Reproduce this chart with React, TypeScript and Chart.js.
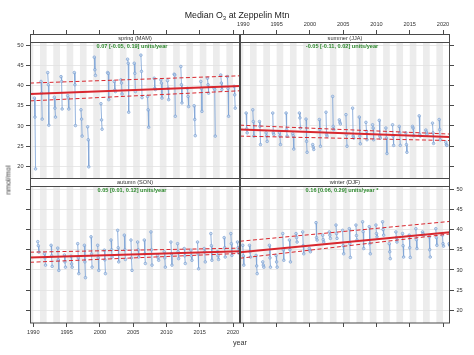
import React, { useEffect, useRef } from "react";
import { Chart, registerables } from "chart.js";

Chart.register(...registerables);

const FONT = "'Liberation Sans', Arial, Helvetica, sans-serif";

// ---------------- data ----------------
const X_MIN = 1989.5;
const X_MAX = 2021.05;
const Y_MIN = 16.9;
const Y_MAX = 50.75;
const X_TICKS = [1990, 1995, 2000, 2005, 2010, 2015, 2020];
const Y_TICKS = [20, 25, 30, 35, 40, 45, 50];

const YEARS = [
  1990, 1991, 1992, 1993, 1994, 1995, 1996, 1997, 1998, 1999, 2000, 2001, 2002, 2003, 2004, 2005,
  2006, 2007, 2008, 2009, 2010, 2011, 2012, 2013, 2014, 2015, 2016, 2017, 2018, 2019, 2020,
];
const WINTER_YEARS = [
  1990, 1991, 1992, 1993, 1994, 1995, 1996, 1997, 1998, 1999, 2000, 2001, 2002, 2003, 2004, 2005,
  2006, 2007, 2008, 2009, 2010, 2011, 2012, 2013, 2014, 2015, 2016, 2017, 2018, 2019, 2020, 2021,
];

// month positions (fraction of a year) of the three months in each season
const SPRING_MONTHS = [0.16, 0.25, 0.33];
const SUMMER_MONTHS = [0.42, 0.5, 0.58];
const AUTUMN_MONTHS = [0.67, 0.75, 0.83];
const WINTER_MONTHS = [-0.08, 0.0, 0.08];

// monthly median O3 (nmol/mol), three months per year
const SPRING = [
  [36.9, 32.2, 19.4], [41.0, 38.1, 31.7], [43.2, 40.2, 30.2], [37.1, 34.4, 32.2], [42.2, 41.0, 34.2],
  [37.5, 36.9, 34.2], [43.2, 40.2, 30.1], [34.0, 31.7, 27.5], [29.8, 26.6, 19.9], [47.0, 43.9, 42.5],
  [35.5, 31.5, 29.2], [43.2, 43.0, 36.5], [41.0, 38.9, 38.5], [41.4, 40.6, 37.9], [46.5, 45.5, 33.4],
  [45.5, 43.0, 38.5], [47.5, 43.5, 37.0], [37.3, 34.0, 29.7], [41.8, 39.3, 39.0], [41.4, 40.6, 36.9],
  [41.2, 39.3, 36.5], [42.8, 42.6, 32.4], [44.7, 40.2, 35.7], [39.3, 37.3, 34.8], [35.0, 31.6, 27.6],
  [41.0, 39.3, 33.6], [41.8, 40.2, 38.1], [39.3, 39.0, 27.5], [42.6, 40.6, 39.0], [42.2, 39.3, 32.4],
  [39.8, 37.7, 34.4],
];
const SUMMER = [
  [33.2, 29.3, 28.3], [34.0, 31.1, 27.5], [31.1, 29.9, 25.4], [28.3, 27.5, 26.2], [33.2, 28.3, 27.9],
  [28.3, 27.5, 25.4], [33.2, 29.1, 27.5], [28.1, 27.6, 24.3], [33.2, 32.0, 29.5], [31.7, 26.2, 23.5],
  [25.4, 24.8, 24.2], [31.6, 29.1, 25.0], [33.4, 27.9, 27.5], [37.3, 29.9, 29.1], [31.5, 30.9, 30.5],
  [32.8, 27.9, 25.0], [34.4, 27.5, 27.0], [32.2, 27.5, 25.6], [30.9, 28.7, 26.6], [30.3, 29.5, 26.6],
  [31.4, 27.5, 27.0], [29.5, 27.0, 23.2], [30.3, 27.5, 25.2], [29.9, 28.3, 25.2], [28.3, 25.4, 23.5],
  [29.9, 29.5, 27.6], [32.5, 27.9, 27.5], [29.0, 28.5, 27.9], [30.7, 28.3, 25.7], [31.6, 29.1, 26.6],
  [26.0, 25.4, 25.2],
];
const AUTUMN = [
  [37.0, 36.0, 34.4], [34.0, 33.0, 31.2], [36.1, 33.5, 30.9], [35.4, 32.5, 29.9], [33.7, 32.0, 30.7],
  [33.4, 31.5, 30.7], [36.5, 33.0, 29.1], [36.1, 32.0, 28.1], [38.2, 34.0, 30.7], [36.1, 33.0, 29.9],
  [34.9, 32.5, 29.1], [37.4, 35.0, 33.2], [39.8, 35.5, 32.0], [38.6, 35.0, 32.6], [37.4, 33.0, 29.9],
  [36.9, 35.0, 33.2], [37.4, 34.0, 31.6], [39.4, 35.0, 31.2], [33.6, 33.0, 32.4], [34.5, 33.0, 30.7],
  [36.9, 34.0, 31.2], [36.5, 34.5, 32.8], [35.3, 33.5, 31.6], [34.9, 33.5, 32.4], [36.9, 34.0, 30.3],
  [35.3, 34.5, 32.0], [39.0, 36.0, 32.4], [34.5, 33.5, 32.6], [38.0, 35.5, 33.2], [39.0, 36.5, 33.6],
  [36.9, 35.5, 34.2],
];
const WINTER = [
  [36.1, 33.5, 31.2], [36.1, 34.5, 33.2], [33.6, 31.0, 29.1], [32.0, 31.2, 30.7], [36.1, 33.0, 30.7],
  [33.6, 32.0, 30.7], [39.0, 35.0, 32.4], [37.4, 35.0, 32.0], [39.0, 38.0, 36.9], [39.4, 36.0, 34.0],
  [35.3, 34.8, 34.5], [41.7, 38.0, 37.4], [38.6, 37.5, 36.9], [39.4, 38.6, 37.8], [41.1, 39.0, 37.8],
  [39.8, 36.0, 34.0], [40.2, 36.5, 33.1], [41.1, 38.5, 37.4], [41.9, 39.5, 35.3], [40.7, 36.5, 34.0],
  [41.1, 39.0, 38.2], [41.9, 40.0, 38.6], [36.5, 34.5, 32.8], [39.4, 38.0, 36.9], [39.0, 36.0, 33.2],
  [38.6, 35.5, 33.1], [40.2, 37.5, 35.3], [39.4, 39.0, 38.6], [38.2, 35.0, 33.2], [40.2, 38.0, 36.1],
  [38.6, 36.5, 35.9], [36.5, 36.2, 36.0],
];

// Theil-Sen trend lines at the start / end of the x range: [trend, lower, upper]
const TREND_X = [X_MIN, X_MAX];
const SPRING_TREND = [[37.9, 39.9], [36.2, 38.7], [40.6, 42.4]];
const SUMMER_TREND = [[29.1, 27.25], [27.5, 26.4], [30.2, 28.0]];
const AUTUMN_TREND = [[33.1, 34.6], [31.9, 34.1], [34.4, 35.4]];
const WINTER_TREND = [[34.4, 39.3], [32.9, 38.9], [37.1, 42.0]];

const PANEL_LABELS = ["spring (MAM)", "summer (JJA)", "autumn (SON)", "winter (DJF)"];
const PANEL_SLOPES = [
  "0.07 [-0.05, 0.19] units/year",
  "-0.05 [-0.11, 0.02] units/year",
  "0.05 [0.01, 0.12] units/year",
  "0.16 [0.06, 0.29] units/year *",
];

const PANELS = [
  { years: YEARS, values: SPRING, months: SPRING_MONTHS, trend: SPRING_TREND },
  { years: YEARS, values: SUMMER, months: SUMMER_MONTHS, trend: SUMMER_TREND },
  { years: YEARS, values: AUTUMN, months: AUTUMN_MONTHS, trend: AUTUMN_TREND },
  { years: WINTER_YEARS, values: WINTER, months: WINTER_MONTHS, trend: WINTER_TREND },
];

// ---------------- layout / style ----------------
const W = 474;
const H = 355;
const COL_X = [30, 240, 450];
const ROW_Y = [
  [42, 179],
  [186, 323],
];
const STRIP_H = 8;
const TICK_LEN = 4;
const X_LABEL_SPACE = 10;
const Y_LABEL_SPACE = 16;

const DATA_COLOR = "#85a8d8";
const TREND_COLOR = "#d9272e";
const SLOPE_COLOR = "#2f8a2f";
const AXIS_COLOR = "#4a4a4a";
const TEXT_COLOR = "#333333";

function buildChart(canvas: HTMLCanvasElement, index: number) {
  const p = PANELS[index];
  const row = Math.floor(index / 2);
  const col = index % 2;
  const area = {
    left: COL_X[col],
    right: COL_X[col + 1],
    top: ROW_Y[row][0],
    bottom: ROW_Y[row][1],
  };
  const yOnLeft = col === 0;
  const yLabels = (row === 0 && col === 0) || (row === 1 && col === 1);
  const xOnTop = row === 0;
  const xLabels = (row === 0 && col === 1) || (row === 1 && col === 0);
  const xTickLen = xOnTop ? TICK_LEN + STRIP_H : TICK_LEN;
  const xAxisH = xTickLen + (xLabels ? X_LABEL_SPACE : 0);
  const yAxisW = yOnLeft ? area.left : TICK_LEN + (yLabels ? Y_LABEL_SPACE : 0);

  const padding = {
    left: yOnLeft ? 0 : area.left,
    right: yOnLeft ? W - area.right : W - area.right - yAxisW,
    top: xOnTop ? area.top - xAxisH : area.top,
    bottom: xOnTop ? H - area.bottom : H - area.bottom - xAxisH,
  };

  const points: { x: number; y: number | null }[] = [];
  p.years.forEach((yr, i) => {
    p.values[i].forEach((v, k) => points.push({ x: yr + p.months[k], y: v }));
    points.push({ x: yr + 0.5, y: null });
  });

  const trendDs = (k: number) => ({
    data: TREND_X.map((x, j) => ({ x, y: p.trend[k][j] })),
    borderColor: TREND_COLOR,
    borderWidth: k === 0 ? 2 : 1,
    borderDash: k === 0 ? [] : [4, 2.5],
    pointRadius: 0,
    fill: false,
    tension: 0,
  });

  const decor = {
    id: "panelDecor" + index,
    beforeDraw(chart: any) {
      const { ctx, chartArea: a, scales } = chart;
      const xs = scales.x;
      ctx.save();
      ctx.beginPath();
      ctx.rect(a.left, a.top, a.right - a.left, a.bottom - a.top);
      ctx.clip();
      ctx.fillStyle = "#ececec";
      for (let yr = 1989; yr <= 2022; yr++) {
        if (yr % 2 !== 1) continue;
        const x0 = xs.getPixelForValue(yr);
        const x1 = xs.getPixelForValue(yr + 1);
        ctx.fillRect(x0, a.top, x1 - x0, a.bottom - a.top);
      }
      ctx.restore();
    },
    afterDraw(chart: any) {
      const { ctx, chartArea: a } = chart;
      ctx.save();
      // strip
      const sTop = a.top - STRIP_H;
      ctx.fillStyle = "#ffffff";
      ctx.fillRect(a.left, sTop, a.right - a.left, STRIP_H);
      ctx.strokeStyle = AXIS_COLOR;
      ctx.lineWidth = 1;
      ctx.strokeRect(a.left + 0.5, sTop + 0.5, a.right - a.left - 1, STRIP_H);
      ctx.fillStyle = TEXT_COLOR;
      ctx.font = `5.6px ${FONT}`;
      ctx.textAlign = "center";
      ctx.textBaseline = "middle";
      ctx.fillText(PANEL_LABELS[index], (a.left + a.right) / 2, sTop + STRIP_H / 2 + 0.5);
      // panel box
      ctx.strokeRect(a.left + 0.5, a.top + 0.5, a.right - a.left - 1, a.bottom - a.top - 0.5);
      // slope text
      ctx.fillStyle = SLOPE_COLOR;
      ctx.font = `bold 5.6px ${FONT}`;
      ctx.fillText(PANEL_SLOPES[index], (a.left + a.right) / 2 - 3, a.top + 4.5);
      ctx.restore();
    },
  };

  return new Chart(canvas, {
    type: "line",
    data: {
      datasets: [
        trendDs(0),
        trendDs(1),
        trendDs(2),
        {
          data: points,
          borderColor: DATA_COLOR,
          borderWidth: 0.9,
          pointRadius: 1.3,
          pointBorderWidth: 0.7,
          pointBorderColor: "#7a9fd2",
          pointBackgroundColor: "rgba(200,218,240,0.7)",
          spanGaps: false,
          fill: false,
          tension: 0,
        },
      ] as any,
    },
    options: {
      responsive: false,
      animation: false,
      devicePixelRatio: 1,
      events: [],
      layout: { padding },
      plugins: { legend: { display: false }, tooltip: { enabled: false }, title: { display: false } },
      scales: {
        x: {
          type: "linear",
          position: xOnTop ? "top" : "bottom",
          min: X_MIN,
          max: X_MAX,
          afterBuildTicks: (s: any) => {
            s.ticks = X_TICKS.map((v) => ({ value: v }));
          },
          afterFit: (s: any) => {
            s.height = xAxisH;
          },
          grid: {
            drawOnChartArea: false,
            drawTicks: true,
            tickLength: xTickLen,
            tickColor: AXIS_COLOR,
            tickWidth: 1,
          },
          border: { display: false },
          ticks: {
            display: xLabels,
            autoSkip: false,
            maxRotation: 0,
            padding: 2,
            color: TEXT_COLOR,
            font: { size: 5.6, family: FONT },
            callback: (v: any) => String(v),
          },
        },
        y: {
          type: "linear",
          position: yOnLeft ? "left" : "right",
          min: Y_MIN,
          max: Y_MAX,
          afterBuildTicks: (s: any) => {
            s.ticks = Y_TICKS.map((v) => ({ value: v }));
          },
          afterFit: (s: any) => {
            s.width = yAxisW;
          },
          grid: {
            drawOnChartArea: true,
            color: "#e2e2e2",
            lineWidth: 0.8,
            drawTicks: true,
            tickLength: TICK_LEN,
            tickColor: AXIS_COLOR,
            tickWidth: 1,
          },
          border: { display: false },
          ticks: {
            display: yLabels,
            autoSkip: false,
            padding: 2.5,
            color: TEXT_COLOR,
            font: { size: 5.6, family: FONT },
            callback: (v: any) => String(v),
          },
        },
      },
    } as any,
    plugins: [decor],
  });
}

export default function App() {
  const refs = useRef<(HTMLCanvasElement | null)[]>([]);

  useEffect(() => {
    const charts = refs.current.map((c, i) => (c ? buildChart(c, i) : null));
    return () => {
      charts.forEach((ch) => ch && ch.destroy());
    };
  }, []);

  return (
    <div
      style={{
        position: "fixed",
        left: 0,
        top: 0,
        width: W,
        height: H,
        background: "#ffffff",
        fontFamily: FONT,
        color: "#222",
        overflow: "hidden",
      }}
    >
      {PANELS.map((_, i) => (
        <canvas
          key={i}
          ref={(el) => {
            refs.current[i] = el;
          }}
          width={W}
          height={H}
          style={{ position: "absolute", left: 0, top: 0, width: W, height: H }}
        />
      ))}
      <div
        style={{
          position: "absolute",
          left: 0,
          top: 9,
          width: W,
          textAlign: "center",
          fontSize: 8.8,
          lineHeight: "12px",
        }}
      >
        Median O<sub style={{ fontSize: 6, verticalAlign: "-2px", lineHeight: 0 }}>3</sub> at Zeppelin Mtn
      </div>
      <div
        style={{
          position: "absolute",
          left: 200,
          top: 338,
          width: 80,
          textAlign: "center",
          fontSize: 7.2,
          lineHeight: "9px",
          color: "#333",
        }}
      >
        year
      </div>
      <div
        style={{
          position: "absolute",
          left: 8,
          top: 180,
          transform: "translate(-50%, -50%) rotate(-90deg)",
          whiteSpace: "nowrap",
          fontSize: 7.2,
          lineHeight: "9px",
          color: "#333",
        }}
      >
        nmol/mol
      </div>
    </div>
  );
}
